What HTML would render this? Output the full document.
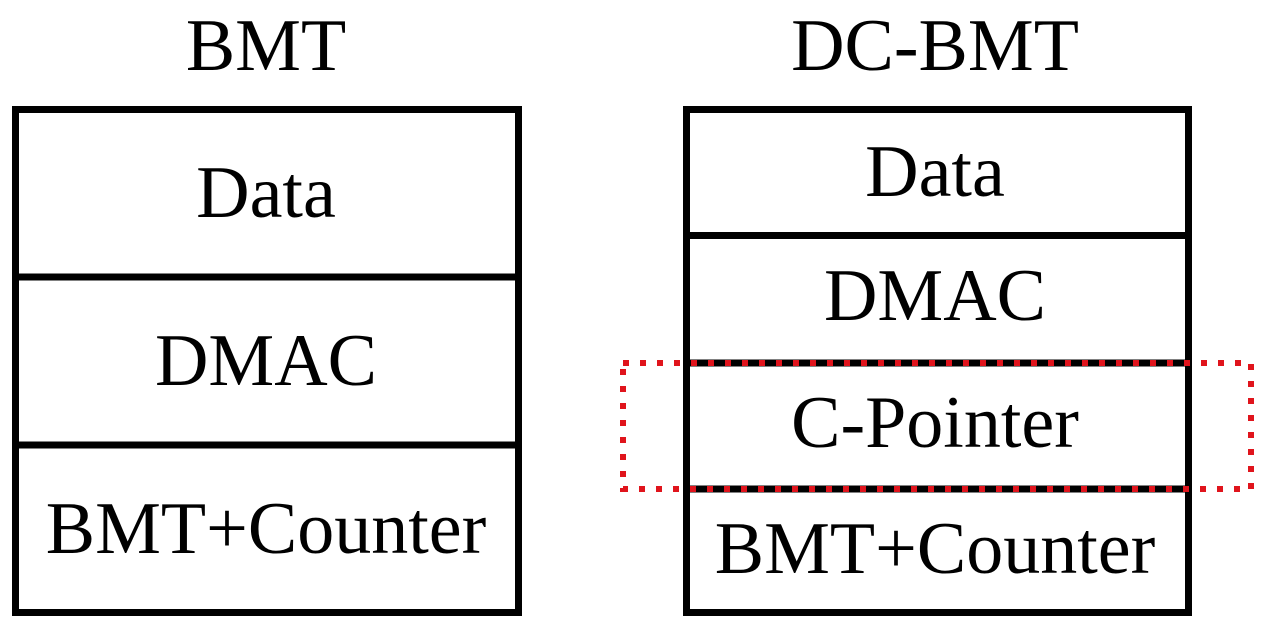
<!DOCTYPE html>
<html><head><style>body{margin:0;background:#fff}svg{display:block}</style></head>
<body>
<svg width="1267" height="633" viewBox="0 0 1267 633" xmlns="http://www.w3.org/2000/svg" font-family="Liberation Serif, serif" font-size="74" text-anchor="middle" fill="#000">
<g fill="none" stroke="#000" stroke-width="7">
<rect x="15.5" y="109.5" width="503" height="503"/>
<line x1="15" y1="277" x2="519" y2="277"/>
<line x1="15" y1="445" x2="519" y2="445"/>
<rect x="686.5" y="109.5" width="502" height="503"/>
<line x1="686" y1="235.5" x2="1189" y2="235.5"/>
<line x1="686" y1="363" x2="1189" y2="363"/>
<line x1="686" y1="489" x2="1189" y2="489"/>
</g>
<rect x="623" y="363" width="628" height="126" fill="none" stroke="#e0141c" stroke-width="6" stroke-dasharray="6 11"/>
<text x="266" y="70">BMT</text>
<text x="935" y="70">DC-BMT</text>
<text x="266" y="217">Data</text>
<text x="266" y="385">DMAC</text>
<text x="266" y="553">BMT+Counter</text>
<text x="935" y="196">Data</text>
<text x="935" y="320">DMAC</text>
<text x="935" y="447">C-Pointer</text>
<text x="935" y="573">BMT+Counter</text>
</svg>
</body></html>
